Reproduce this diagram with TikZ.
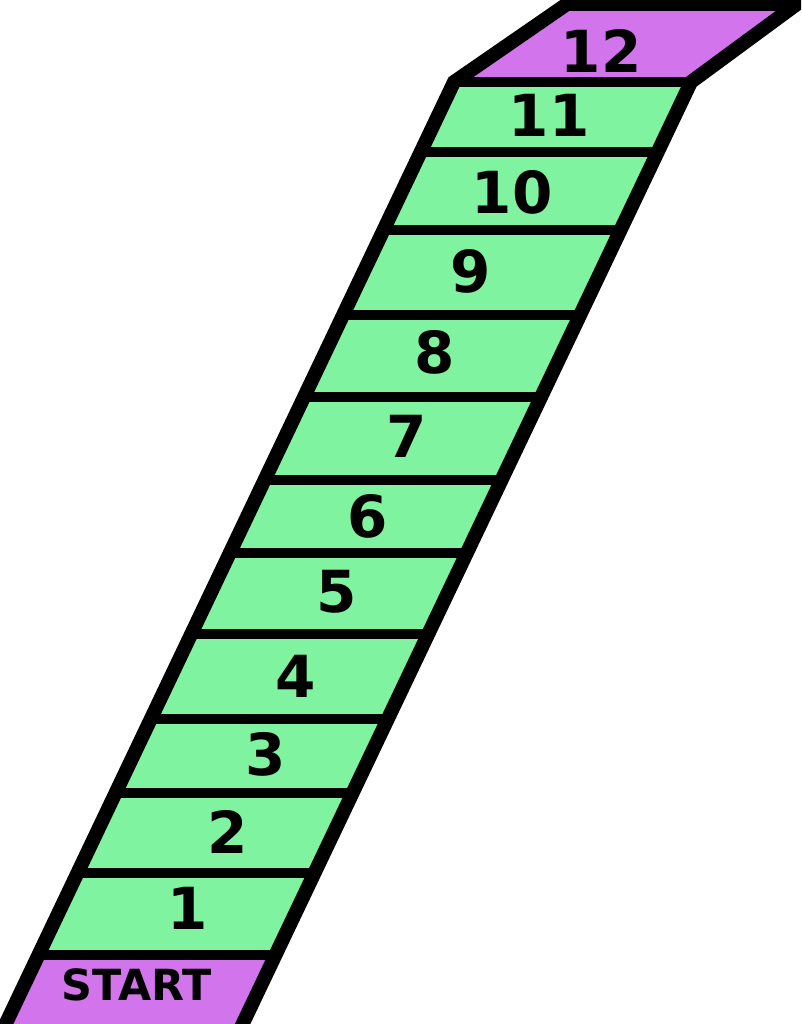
\documentclass[tikz,border=0pt]{standalone}
\usepackage{fontspec}
\setmainfont{DejaVu Sans}
\usepackage{tikz}

\definecolor{vertcase}{RGB}{128,243,161}
\definecolor{violetcase}{RGB}{210,116,236}

\tikzset{
  bord/.style={line width=1.4mm,line join=miter,draw=black},
  trait/.style={line width=1.0mm,draw=black},
  numero/.style={inner sep=0pt,font=\fontsize{16.5}{18}\selectfont\bfseries},
  depart/.style={inner sep=0pt,font=\fontsize{12.2}{13}\selectfont\bfseries},
}

\begin{document}
\begin{tikzpicture}[x=0.1mm,y=-0.1mm]
      % Cadre de l'image
      \clip (0,0) rectangle (801,1024);

      % Points des bords de l'échelle
      \foreach \y/\nom in {82/a,152/b,230/c,315/d,397/e,480/f,553/g,634/h,719/i,793/j,873/k,955/l,1070/z}{
        \coordinate (g\nom) at ({454-0.476*(\y-82)},\y);
        \coordinate (d\nom) at ({691-0.476*(\y-82)},\y);
      }
      % Coins de la case 12
      \coordinate (hg) at (567,4);
      \coordinate (hd) at (797,4);

      % Remplissage des cases
      \fill[vertcase] (ga) -- (da) -- (dl) -- (gl) -- cycle;
      \fill[violetcase] (gl) -- (dl) -- (dz) -- (gz) -- cycle;
      \fill[violetcase] (ga) -- (hg) -- (hd) -- (da) -- cycle;

      % Traits de séparation
      \foreach \nom in {a,b,c,d,e,f,g,h,i,j,k,l}
        \draw[trait] (g\nom) -- (d\nom);

      % Contour
      \draw[bord] (gz) -- (ga) -- (hg) -- (hd) -- (da) -- (dz);

      % Numéros des cases
      \foreach \n/\x/\y in {12/601/51,11/549/115,10/512/192,9/471/271,8/435/352,7/407/436,
                            6/368/516,5/337/592,4/296/676,3/266/754,2/228/832,1/188/908}
        \node[numero] (n\n) at (\x,\y) {\n};
      \node[depart] (depart) at (137,985) {START};
    \end{tikzpicture}
\end{document}
